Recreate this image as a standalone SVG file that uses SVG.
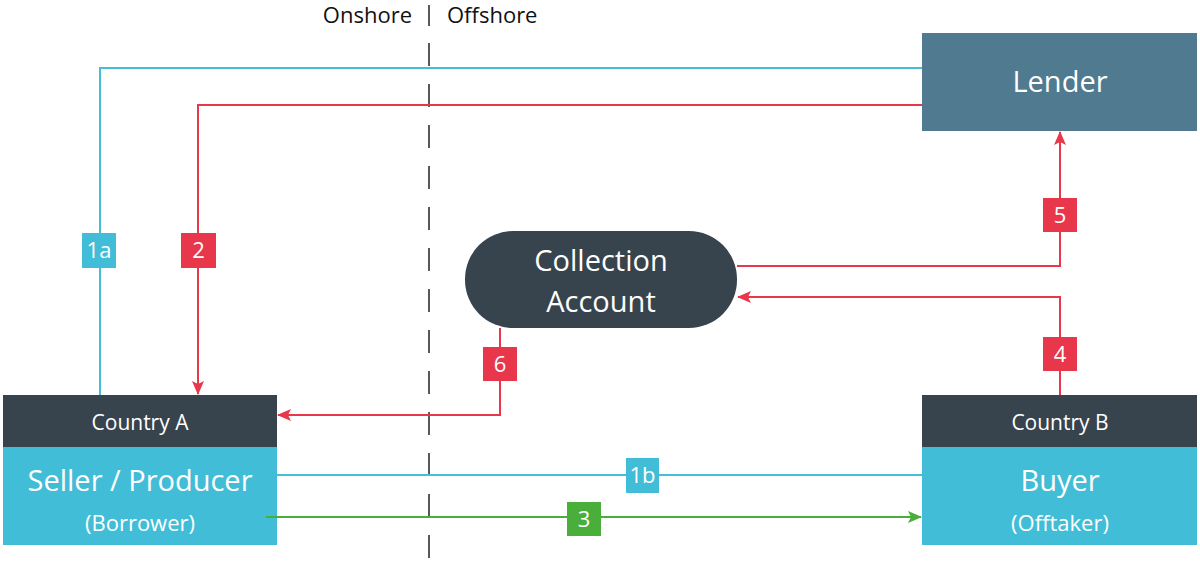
<svg xmlns="http://www.w3.org/2000/svg" width="1200" height="561" viewBox="0 0 1200 561">
<style>
text{font-family:"Open Sans","Noto Sans","Liberation Sans",sans-serif;fill:#fff;text-anchor:middle}
.lbl{font-size:22px}
.big{font-size:29px}
.mid{font-size:22px}
.hdr{font-size:21px}
.top{font-size:22px;fill:#111}
.dark{fill:#37434d}
.cy{fill:#42bdd7}
.red{stroke:#e8374a;stroke-width:2;fill:none}
.cyl{stroke:#45bfd8;stroke-width:2;fill:none}
.grn{stroke:#4aaf3a;stroke-width:2;fill:none}
</style>
<defs>
<marker id="ar" viewBox="0 0 14 12" refX="13" refY="6" markerWidth="14" markerHeight="12" markerUnits="userSpaceOnUse" orient="auto"><path d="M0,0 L14,6 L0,12 L3,6 Z" fill="#e8374a"/></marker>
<marker id="ag" viewBox="0 0 14 12" refX="13" refY="6" markerWidth="14" markerHeight="12" markerUnits="userSpaceOnUse" orient="auto"><path d="M0,0 L14,6 L0,12 L3,6 Z" fill="#4aaf3a"/></marker>
</defs>
<rect width="1200" height="561" fill="#fff"/>
<g id="divider">
<text class="top" x="412" y="23" style="text-anchor:end">Onshore</text>
<text class="top" x="447" y="23" style="text-anchor:start">Offshore</text>
<line x1="429" y1="5" x2="429" y2="26" stroke="#222" stroke-width="1.5"/>
<line x1="429" y1="43" x2="429" y2="560" stroke="#222" stroke-width="1.5" stroke-dasharray="23 18"/>
</g>
<g id="lender">
<rect x="922" y="33" width="275" height="98" fill="#4f7a8f"/>
<text class="big" x="1060" y="92">Lender</text>
</g>
<g id="collection">
<rect x="465" y="231" width="272" height="97" rx="48" ry="48" class="dark"/>
<text class="big" x="601" y="271">Collection</text>
<text class="big" x="601" y="312">Account</text>
</g>
<g id="seller">
<rect x="3" y="395" width="274" height="52" class="dark"/>
<text class="hdr" x="140" y="430">Country A</text>
<rect x="3" y="447" width="274" height="98" class="cy"/>
<text class="big" x="140" y="491">Seller / Producer</text>
<text class="mid" x="140" y="531">(Borrower)</text>
</g>
<g id="buyer">
<rect x="922" y="395" width="275" height="52" class="dark"/>
<text class="hdr" x="1060" y="430">Country B</text>
<rect x="922" y="447" width="275" height="98" class="cy"/>
<text class="big" x="1060" y="491">Buyer</text>
<text class="mid" x="1060" y="531">(Offtaker)</text>
</g>
<g id="connectors">
<polyline class="cyl" points="922,68 100,68 100,395"/>
<polyline class="red" points="922,105 198,105 198,394" marker-end="url(#ar)"/>
<polyline class="red" points="737,266 1060,266 1060,132" marker-end="url(#ar)"/>
<polyline class="red" points="1060,395 1060,297 738,297" marker-end="url(#ar)"/>
<polyline class="red" points="500,328 500,415 278,415" marker-end="url(#ar)"/>
<line class="cyl" x1="277" y1="475" x2="922" y2="475"/>
<line class="grn" x1="266" y1="517" x2="921" y2="517" marker-end="url(#ag)"/>
<rect x="82" y="233" width="34" height="35" fill="#42bdd7"/><text class="lbl" x="99" y="258">1a</text>
<rect x="181" y="233" width="35" height="35" fill="#e8374a"/><text class="lbl" x="198.5" y="258">2</text>
<rect x="1043" y="198" width="34" height="34" fill="#e8374a"/><text class="lbl" x="1060" y="223">5</text>
<rect x="1043" y="337" width="34" height="34" fill="#e8374a"/><text class="lbl" x="1060" y="362">4</text>
<rect x="483" y="347" width="34" height="34" fill="#e8374a"/><text class="lbl" x="500" y="372">6</text>
<rect x="626" y="458" width="33" height="35" fill="#42bdd7"/><text class="lbl" x="642.5" y="483">1b</text>
<rect x="567" y="502" width="34" height="34" fill="#4aaf3a"/><text class="lbl" x="584" y="527">3</text>
</g>
</svg>
